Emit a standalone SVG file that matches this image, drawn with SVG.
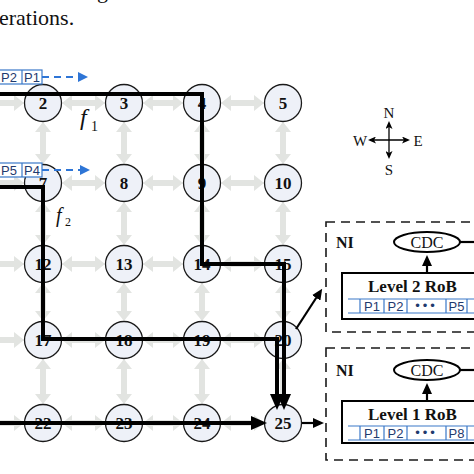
<svg xmlns="http://www.w3.org/2000/svg" width="474" height="474" viewBox="0 0 474 474">
<style>
.node circle{fill:#eef1f8;stroke:#1a1a1a;stroke-width:1.3}
.node text{font-family:"Liberation Serif",serif;font-weight:bold;font-size:17px;text-anchor:middle;fill:#111}
.mesh path{stroke:#e2e4e1;stroke-width:6;fill:none;marker-start:url(#g);marker-end:url(#g)}
.mesh path.edge{marker-start:none}
.flow path{stroke:#000;stroke-width:4;fill:none;stroke-linejoin:miter}
.thin{stroke:#000;stroke-width:2.2;fill:none}
.serif{font-family:"Liberation Serif",serif;fill:#111}
.bold{font-weight:bold}
.pbox{fill:#fff;stroke:#3a78c8;stroke-width:1.2}
.pline{stroke:#3a78c8;stroke-width:1.2;fill:none}
.ptxt{font-family:"Liberation Sans",Arial,sans-serif;font-size:13px;fill:#1f3a6e;text-anchor:middle}
.dash{stroke:#1a1a1a;stroke-width:1.6;fill:none;stroke-dasharray:9 6}
.blue{stroke:#2e75d6;stroke-width:2;fill:none;stroke-dasharray:7 5}
</style>
<defs>
<marker id="g" markerUnits="userSpaceOnUse" viewBox="0 0 10 16" markerWidth="10" markerHeight="16" refX="4" refY="8" orient="auto-start-reverse"><path d="M0,0 L10,8 L0,16 z" fill="#e2e4e1"/></marker>
<marker id="b" markerUnits="userSpaceOnUse" viewBox="0 0 16 14" markerWidth="16" markerHeight="14" refX="10" refY="7" orient="auto"><path d="M0,0 L16,7 L0,14 z" fill="#000"/></marker>
<marker id="s" markerUnits="userSpaceOnUse" viewBox="0 0 11 10" markerWidth="11" markerHeight="10" refX="7" refY="5" orient="auto"><path d="M0,0 L11,5 L0,10 z" fill="#000"/></marker>
<marker id="c" markerUnits="userSpaceOnUse" viewBox="0 0 8 7" markerWidth="8" markerHeight="7" refX="6" refY="3.5" orient="auto-start-reverse"><path d="M0,0 L8,3.5 L0,7 L2,3.5 z" fill="#000"/></marker>
<marker id="bl" markerUnits="userSpaceOnUse" viewBox="0 0 10 10" markerWidth="10" markerHeight="10" refX="5" refY="5" orient="auto"><path d="M0,0 L10,5 L0,10 z" fill="#2e75d6"/></marker>
</defs>
<rect width="474" height="474" fill="#fff"/>
<text class="serif" x="97" y="-2" font-size="22">g</text>
<text class="serif" x="-1" y="25" font-size="22">erations.</text>

<g class="mesh">
<path d="M68,103H99"/><path d="M149,103H177"/><path d="M227,103H258"/>
<path d="M68,183H99"/><path d="M149,183H177"/><path d="M227,183H258"/>
<path d="M68,264H99"/><path d="M149,264H177"/><path d="M227,264H258"/>
<path d="M68,340H99"/><path d="M149,340H177"/><path d="M227,340H258"/>
<path d="M68,423H99"/><path d="M149,423H177"/><path d="M227,423H258"/>
<path class="edge" d="M-10,103H18"/><path class="edge" d="M-10,183H18"/><path class="edge" d="M-10,264H18"/><path class="edge" d="M-10,340H18"/><path class="edge" d="M-10,423H18"/>
<path d="M43,128V158"/><path d="M43,208V239"/><path d="M43,289V315"/><path d="M43,365V398"/>
<path d="M124,128V158"/><path d="M124,208V239"/><path d="M124,289V315"/><path d="M124,365V398"/>
<path d="M202,128V158"/><path d="M202,208V239"/><path d="M202,289V315"/><path d="M202,365V398"/>
<path d="M283,128V158"/><path d="M283,208V239"/><path d="M283,289V315"/><path d="M283,365V398"/>
</g>

<g id="n2" class="node"><circle cx="43" cy="103" r="18.5"/><text x="43" y="109">2</text></g>
<g id="n3" class="node"><circle cx="124" cy="103" r="18.5"/><text x="124" y="109">3</text></g>
<g id="n4" class="node"><circle cx="202" cy="103" r="18.5"/><text x="202" y="109">4</text></g>
<g id="n5" class="node"><circle cx="283" cy="103" r="18.5"/><text x="283" y="109">5</text></g>
<g id="n7" class="node"><circle cx="43" cy="183" r="18.5"/><text x="43" y="189">7</text></g>
<g id="n8" class="node"><circle cx="124" cy="183" r="18.5"/><text x="124" y="189">8</text></g>
<g id="n9" class="node"><circle cx="202" cy="183" r="18.5"/><text x="202" y="189">9</text></g>
<g id="n10" class="node"><circle cx="283" cy="183" r="18.5"/><text x="283" y="189">10</text></g>
<g id="n12" class="node"><circle cx="43" cy="264" r="18.5"/><text x="43" y="270">12</text></g>
<g id="n13" class="node"><circle cx="124" cy="264" r="18.5"/><text x="124" y="270">13</text></g>
<g id="n14" class="node"><circle cx="202" cy="264" r="18.5"/><text x="202" y="270">14</text></g>
<g id="n15" class="node"><circle cx="283" cy="264" r="18.5"/><text x="283" y="270">15</text></g>
<g id="n17" class="node"><circle cx="43" cy="340" r="18.5"/><text x="43" y="346">17</text></g>
<g id="n18" class="node"><circle cx="124" cy="340" r="18.5"/><text x="124" y="346">18</text></g>
<g id="n19" class="node"><circle cx="202" cy="340" r="18.5"/><text x="202" y="346">19</text></g>
<g id="n20" class="node"><circle cx="283" cy="340" r="18.5"/><text x="283" y="346">20</text></g>
<g id="n22" class="node"><circle cx="43" cy="423" r="18.5"/><text x="43" y="429">22</text></g>
<g id="n23" class="node"><circle cx="124" cy="423" r="18.5"/><text x="124" y="429">23</text></g>
<g id="n24" class="node"><circle cx="202" cy="423" r="18.5"/><text x="202" y="429">24</text></g>
<g id="n25" class="node"><circle cx="283" cy="423" r="18.5"/><text x="283" y="429">25</text></g>

<g id="flows" class="flow">
<path d="M-5,94H202V264H284V404" marker-end="url(#b)"/>
<path d="M-5,187H43V339H277V404" marker-end="url(#b)"/>
<path d="M-5,423H261" marker-end="url(#b)"/>
</g>

<g id="links">
<path class="thin" d="M296,329L320,292" marker-end="url(#s)"/>
<path class="thin" d="M302,423H320" marker-end="url(#s)"/>
</g>

<g id="labels" class="serif" font-style="italic">
<text x="80" y="125" font-size="24">f</text><text x="91" y="131" font-size="14" font-style="normal">1</text>
<text x="56" y="222" font-size="20">f</text><text x="65" y="226" font-size="12" font-style="normal">2</text>
</g>

<g id="packets1">
<rect class="pbox" x="-10" y="70" width="52" height="14"/>
<path class="pline" d="M22,70V84"/>
<text class="ptxt" x="9" y="82">P2</text><text class="ptxt" x="32" y="82">P1</text>
<path class="blue" d="M42,77H83" marker-end="url(#bl)"/>
</g>
<g id="packets2">
<rect class="pbox" x="-10" y="163" width="52" height="14"/>
<path class="pline" d="M22,163V177"/>
<text class="ptxt" x="9" y="175">P5</text><text class="ptxt" x="32" y="175">P4</text>
<path class="blue" d="M42,170H85" marker-end="url(#bl)"/>
</g>

<g id="compass" class="serif" font-size="15" text-anchor="middle">
<path d="M389,123V157" stroke="#000" stroke-width="1.3" marker-start="url(#c)" marker-end="url(#c)"/>
<path d="M370,140H408" stroke="#000" stroke-width="1.3" marker-start="url(#c)" marker-end="url(#c)"/>
<text x="389" y="118">N</text>
<text x="389" y="175">S</text>
<text x="360" y="146">W</text>
<text x="418" y="146">E</text>
</g>

<g id="ni2">
<rect class="dash" x="326" y="222" width="170" height="110"/>
<text class="serif bold" x="336" y="248" font-size="16">NI</text>
<ellipse cx="427" cy="242" rx="33" ry="10" fill="#fff" stroke="#000" stroke-width="2"/>
<path class="thin" d="M460,242H480"/>
<text class="serif" x="427" y="248" font-size="16" text-anchor="middle">CDC</text>
<path class="thin" d="M427,273V259" marker-end="url(#s)"/>
<rect x="342" y="273" width="150" height="46" fill="#fff" stroke="#000" stroke-width="2"/>
<text class="serif bold" x="368" y="292" font-size="17">Level 2 RoB</text>
<path class="pline" d="M348,299H480M348,313H480M360,299V313M384,299V313M407,299V313M446,299V313M467,299V313"/>
<text class="ptxt" x="372" y="311">P1</text><text class="ptxt" x="395.5" y="311">P2</text>
<text class="ptxt" x="426.5" y="310" fill="#3f7fd8" letter-spacing="3">•••</text>
<text class="ptxt" x="456.5" y="311">P5</text>
</g>

<g id="ni1">
<rect class="dash" x="326" y="348" width="170" height="112"/>
<text class="serif bold" x="336" y="376" font-size="16">NI</text>
<ellipse cx="427" cy="370" rx="33" ry="10" fill="#fff" stroke="#000" stroke-width="2"/>
<path class="thin" d="M460,370H480"/>
<text class="serif" x="427" y="376" font-size="16" text-anchor="middle">CDC</text>
<path class="thin" d="M427,401V387" marker-end="url(#s)"/>
<rect x="342" y="401" width="150" height="42" fill="#fff" stroke="#000" stroke-width="2"/>
<text class="serif bold" x="368" y="420" font-size="17">Level 1 RoB</text>
<path class="pline" d="M348,426H480M348,440H480M360,426V440M384,426V440M407,426V440M446,426V440M467,426V440"/>
<text class="ptxt" x="372" y="438">P1</text><text class="ptxt" x="395.5" y="438">P2</text>
<text class="ptxt" x="426.5" y="437" fill="#3f7fd8" letter-spacing="3">•••</text>
<text class="ptxt" x="456.5" y="438">P8</text>
</g>
</svg>
